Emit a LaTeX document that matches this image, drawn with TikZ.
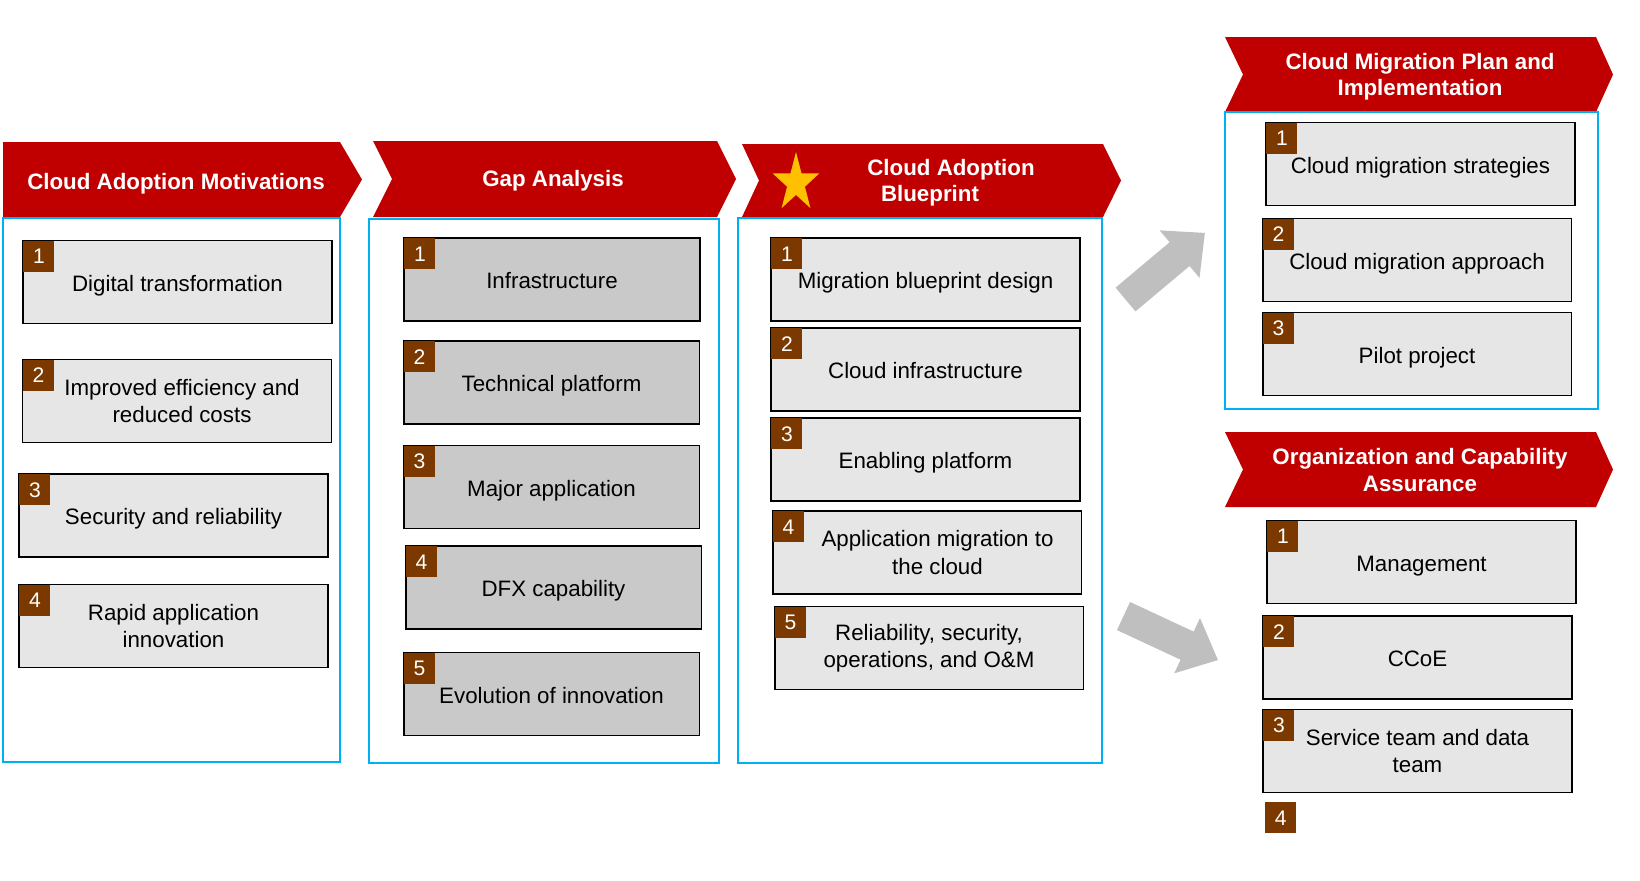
\documentclass[tikz,border=0pt]{standalone}
\usepackage{fontspec}
\setmainfont{Liberation Sans}
\usetikzlibrary{shapes.geometric}

\definecolor{hdrred}{HTML}{C00000}
\definecolor{panelblue}{HTML}{00B0F0}
\definecolor{itemgrey}{HTML}{E7E6E6}
\definecolor{gapgrey}{HTML}{C9C9C9}
\definecolor{badgebrown}{HTML}{7B3900}
\definecolor{arrowgrey}{HTML}{BFBFBF}
\definecolor{stargold}{HTML}{FFC000}

\begin{document}
\begin{tikzpicture}[
    x=0.02cm, y=-0.02cm,
    hdr/.style={fill=hdrred},
    hdrtext/.style={text=white, font=\bfseries\fontsize{12.7}{15}\selectfont, align=center, inner sep=0pt},
    panel/.style={draw=panelblue, line width=1pt},
    item/.style={draw=black, line width=1.1pt, fill=itemgrey, minimum width=6.18cm, minimum height=1.66cm,
                 align=center, inner sep=0pt, font=\fontsize{12.7}{15.4}\selectfont,
                 text height=10.6pt, text depth=0pt},
    twoline/.style={text height=, text depth=},
    gapitem/.style={item, fill=gapgrey, minimum width=5.92cm},
    badge/.style={fill=badgebrown, text=white, minimum size=0.62cm, inner sep=0pt, anchor=north west,
                  font=\fontsize{12}{14}\selectfont},
    bigarrow/.style={fill=arrowgrey}
  ]
  \useasboundingbox (0,0) rectangle (1640,880);

  % headers
  \fill[hdr] (3,142) -- (340,142) -- (362,179.5) -- (340,217) -- (3,217) -- cycle;
  \fill[hdr] (373,141) -- (717,141) -- (736,179) -- (717,217) -- (373,217) -- (392,179) -- cycle;
  \fill[hdr] (742,144) -- (1103,144) -- (1121,180.5) -- (1103,217) -- (742,217) -- (759,180.5) -- cycle;
  \fill[hdr] (1225,37) -- (1596,37) -- (1613,74.5) -- (1596,112) -- (1225,112) -- (1243,74.5) -- cycle;
  \fill[hdr] (1225,432) -- (1596,432) -- (1613,469.5) -- (1596,507) -- (1225,507) -- (1243,469.5) -- cycle;

  \node[hdrtext] (hmot) at (176,184) {Cloud Adoption Motivations};
  \node[hdrtext] (hgap) at (553,181) {Gap Analysis};
  \node[hdrtext] (hblue) at (951,183) {Cloud Adoption\\Blueprint\hspace*{0.84cm}};
  \node[star, star points=5, star point ratio=2.6, fill=stargold, minimum size=1.24cm, inner sep=0pt,
        xscale=0.79, transform shape] (star) at (796,183) {};
  \node[hdrtext] (hplan) at (1420,76.5) {Cloud Migration Plan and\\Implementation};
  \node[hdrtext] (horg) at (1420,470) {Organization and Capability\\Assurance};

  % panels
  \draw[panel] (3,218) rectangle (340,762);
  \draw[panel] (369,219) rectangle (719,763);
  \draw[panel] (738,218) rectangle (1102,763);
  \draw[panel] (1225,112) rectangle (1598,409);

  % motivations
  \node[item] (m1) at (177.5,282) {Digital transformation};
  \node[item, twoline] (m2) at (177,401) {\hspace*{0.2cm}Improved efficiency and\\\hspace*{0.2cm}reduced costs};
  \node[item] (m3) at (173.5,515.5) {Security and reliability};
  \node[item, twoline] (m4) at (173.5,626) {Rapid application\\innovation};

  % gap analysis
  \node[gapitem] (g1) at (552,279.5) {Infrastructure};
  \node[gapitem] (g2) at (551.5,382.5) {Technical platform};
  \node[gapitem] (g3) at (551.5,487) {Major application};
  \node[gapitem] (g4) at (553.5,587.5) {DFX capability};
  \node[gapitem] (g5) at (551.5,694) {Evolution of innovation};

  % blueprint
  \node[item] (b1) at (925.5,279.5) {Migration blueprint design};
  \node[item] (b2) at (925.5,369.5) {Cloud infrastructure};
  \node[item] (b3) at (925.5,459.5) {Enabling platform};
  \node[item, twoline] (b4) at (927,552.5) {\hspace*{0.42cm}Application migration to\\\hspace*{0.42cm}the cloud};
  \node[item, twoline] (b5) at (929,648) {Reliability, security,\\operations, and O\&M};

  % plan and implementation
  \node[item] (p1) at (1420.5,164) {Cloud migration strategies};
  \node[item] (p2) at (1417,260) {Cloud migration approach};
  \node[item] (p3) at (1417,354) {Pilot project};

  % organization
  \node[item] (o1) at (1421.5,562) {Management};
  \node[item] (o2) at (1417.5,657.5) {CCoE};
  \node[item, twoline] (o3) at (1417.5,751) {Service team and data\\team};

  % number badges
  \node[badge] (m1n) at ([xshift=0.6pt,yshift=-0.6pt]m1.north west) {1};
  \node[badge] (m2n) at ([xshift=0.6pt,yshift=-0.6pt]m2.north west) {2};
  \node[badge] (m3n) at ([xshift=0.6pt,yshift=-0.6pt]m3.north west) {3};
  \node[badge] (m4n) at ([xshift=0.6pt,yshift=-0.6pt]m4.north west) {4};
  \node[badge] (g1n) at ([xshift=0.6pt,yshift=-0.6pt]g1.north west) {1};
  \node[badge] (g2n) at ([xshift=0.6pt,yshift=-0.6pt]g2.north west) {2};
  \node[badge] (g3n) at ([xshift=0.6pt,yshift=-0.6pt]g3.north west) {3};
  \node[badge] (g4n) at ([xshift=0.6pt,yshift=-0.6pt]g4.north west) {4};
  \node[badge] (g5n) at ([xshift=0.6pt,yshift=-0.6pt]g5.north west) {5};
  \node[badge] (b1n) at ([xshift=0.6pt,yshift=-0.6pt]b1.north west) {1};
  \node[badge] (b2n) at ([xshift=0.6pt,yshift=-0.6pt]b2.north west) {2};
  \node[badge] (b3n) at ([xshift=0.6pt,yshift=-0.6pt]b3.north west) {3};
  \node[badge] (b4n) at ([xshift=0.6pt,yshift=-0.6pt]b4.north west) {4};
  \node[badge] (b5n) at ([xshift=0.6pt,yshift=-0.6pt]b5.north west) {5};
  \node[badge] (p1n) at ([xshift=0.6pt,yshift=-0.6pt]p1.north west) {1};
  \node[badge] (p2n) at ([xshift=0.6pt,yshift=-0.6pt]p2.north west) {2};
  \node[badge] (p3n) at ([xshift=0.6pt,yshift=-0.6pt]p3.north west) {3};
  \node[badge] (o1n) at ([xshift=0.6pt,yshift=-0.6pt]o1.north west) {1};
  \node[badge] (o2n) at ([xshift=0.6pt,yshift=-0.6pt]o2.north west) {2};
  \node[badge] (o3n) at ([xshift=0.6pt,yshift=-0.6pt]o3.north west) {3};
  \node[badge] (o4n) at (1265,802) {4};

  % grey block arrows
  \fill[bigarrow, shift={(1125.5,299.5)}, rotate=40]
    (0,-15.5) -- (70.6,-15.5) -- (70.6,-31) -- (103.6,0) -- (70.6,31) -- (70.6,15.5) -- (0,15.5) -- cycle;
  \fill[bigarrow, shift={(1123.5,616)}, rotate=-25]
    (0,-15.5) -- (70.2,-15.5) -- (70.2,-30.5) -- (104.2,0) -- (70.2,30.5) -- (70.2,15.5) -- (0,15.5) -- cycle;

\end{tikzpicture}
\end{document}
